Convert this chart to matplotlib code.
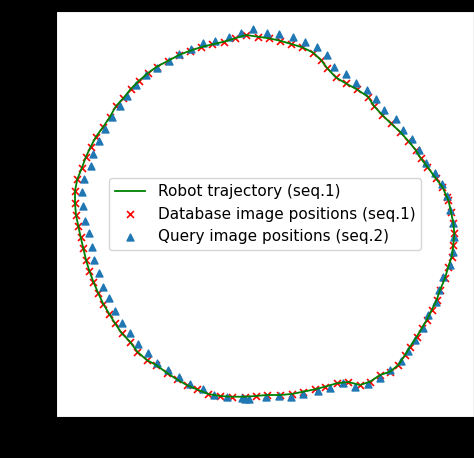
import matplotlib
matplotlib.use("Agg")
import matplotlib.pyplot as plt

# database image positions (seq.1) (x, y in picture units, y downwards)
db_x = [75.0, 76.0, 78.3, 80.7, 83.3, 86.0, 89.3, 93.3, 98.3, 103.3, 109.3, 115.0, 121.7, 130.0,
        137.3, 146.7, 156.0, 166.7, 176.7, 186.7, 196.7, 208.3, 220.0, 231.7, 245.0, 256.0, 266.7,
        280.0, 291.7, 303.3, 315.0, 325.0, 336.7, 348.3, 360.0, 370.0, 380.0, 390.0, 398.3, 405.0,
        410.0, 416.7, 421.7, 426.7, 431.7, 436.7, 440.0, 445.0, 448.3, 451.7, 453.3, 454.3, 453.3,
        451.0, 448.3, 446.7, 442.3, 435.7, 427.3, 420.7, 415.7, 408.0, 400.0, 390.7, 382.3, 374.0,
        368.0, 356.7, 345.7, 335.7, 327.3, 321.0, 313.3, 302.3, 291.3, 280.0, 269.0, 257.7, 246.0,
        235.0, 224.0, 212.3, 200.7, 190.0, 179.0, 168.3, 156.7, 147.7, 139.0, 130.7, 123.3, 116.0,
        110.0, 103.3, 96.0, 90.7, 86.0, 81.7, 77.3, 75.0]
db_y = [203.3, 215.0, 226.0, 237.3, 248.3, 260.0, 270.7, 281.7, 293.3, 304.0, 314.0, 323.3, 333.3,
        341.7, 351.7, 360.0, 365.0, 372.7, 379.3, 385.0, 389.3, 394.0, 396.0, 396.7, 396.7, 396.0,
        395.0, 395.0, 394.0, 391.7, 389.3, 386.7, 383.3, 382.0, 385.0, 381.7, 375.0, 371.7, 365.0,
        355.0, 346.7, 336.7, 328.3, 320.0, 310.0, 300.0, 290.0, 278.3, 266.7, 256.7, 245.0, 233.3,
        223.3, 211.7, 200.0, 196.7, 186.7, 178.3, 166.7, 158.3, 150.0, 140.7, 131.7, 123.3, 115.0,
        106.0, 96.7, 89.3, 83.3, 77.3, 68.3, 60.0, 52.7, 47.3, 44.0, 40.7, 38.3, 36.7, 35.0, 38.3,
        41.7, 44.3, 47.3, 50.7, 55.0, 60.7, 66.7, 73.3, 80.7, 89.0, 98.3, 106.0, 116.7, 126.7,
        136.7, 146.7, 156.7, 168.3, 179.3, 190.7]

# query image positions (seq.2)
q_x = [253.3, 241.0, 229.3, 215.0, 202.7, 191.0, 179.3, 168.7, 156.7, 146.0, 136.0, 127.3, 120.3,
       111.7, 105.3, 99.3, 93.3, 90.7, 84.0, 82.3, 83.3, 85.0, 89.3, 91.7, 94.0, 99.3, 103.3, 109.3,
       115.0, 121.7, 130.0, 138.3, 147.7, 156.7, 168.3, 179.3, 190.0, 203.3, 214.0, 227.3, 241.7,
       245.0, 249.3, 266.0, 279.3, 291.0, 303.3, 317.7, 330.0, 342.7, 355.0, 368.3, 380.0, 390.0,
       401.0, 407.7, 415.0, 422.7, 428.3, 436.0, 439.3, 443.3, 450.0, 453.3, 454.3, 452.7, 450.0,
       446.7, 441.7, 435.0, 426.3, 419.0, 411.7, 403.3, 395.7, 384.0, 375.7, 367.3, 356.3, 345.7,
       334.0, 326.7, 316.7, 305.0, 293.3, 279.0, 267.3]
q_y = [29.0, 32.7, 36.7, 40.7, 43.3, 48.7, 54.3, 60.7, 67.7, 75.3, 84.7, 95.7, 106.0, 117.3, 129.0,
       140.7, 154.0, 165.7, 179.3, 192.3, 205.5, 220.7, 232.7, 246.7, 260.0, 272.7, 286.7, 298.3,
       311.0, 322.7, 333.3, 344.0, 353.3, 363.3, 370.0, 376.7, 384.3, 389.3, 395.0, 397.3, 398.3,
       398.7, 399.3, 397.3, 395.7, 396.7, 394.0, 390.7, 388.3, 383.3, 386.7, 384.0, 377.7, 370.0,
       360.7, 350.7, 340.0, 327.7, 315.0, 301.7, 290.0, 277.3, 265.0, 251.7, 236.7, 222.7, 210.0,
       195.7, 184.3, 172.7, 162.7, 150.0, 139.3, 130.0, 118.7, 110.0, 99.3, 90.0, 82.7, 74.3, 66.7,
       55.0, 46.7, 41.7, 36.7, 34.0, 32.7]

labels = ['Robot trajectory (seq.1)', 'Database image positions (seq.1)',
          'Query image positions (seq.2)']

fig = plt.figure(figsize=(4.74, 4.58), dpi=100, facecolor='black')
ax = fig.add_axes([56 / 474, 41 / 458, 418 / 474, 406 / 458])
ax.set_facecolor('white')

# trajectory is the closed loop through the database positions
ax.plot(db_x + db_x[:1], db_y + db_y[:1], color='green', lw=1.3, label=labels[0])
ax.scatter(db_x, db_y, marker='x', color='red', s=25, lw=1.2, label=labels[1])
ax.scatter(q_x, q_y, marker='^', color='#1f77b4', s=25, label=labels[2])

ax.set_xlim(56, 474)
ax.set_ylim(417, 11)
ax.legend(loc='center', fontsize=11)

fig.savefig('out.png', facecolor='black')
